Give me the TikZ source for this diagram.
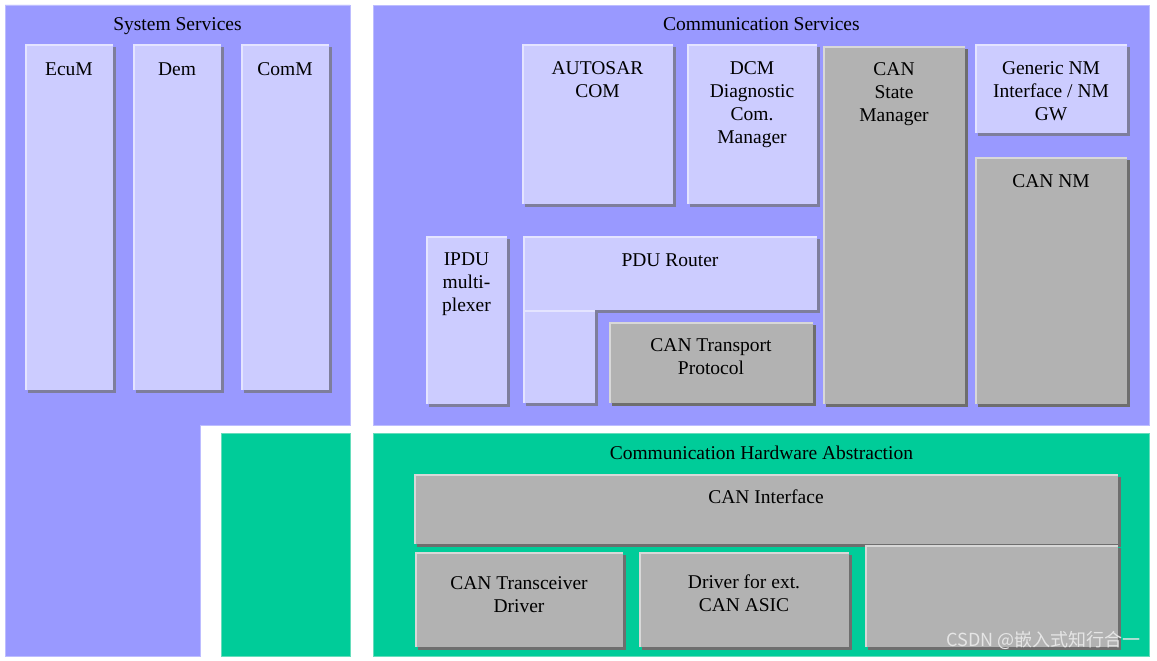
\documentclass[tikz,border=0pt]{standalone}
\usepackage{fontspec}
\setmainfont{Liberation Serif}
\newfontfamily\cjk{Noto Sans CJK SC}
\usepackage{xcolor}
\usepackage{tikz}
\usetikzlibrary{positioning}

\definecolor{svcblue}{HTML}{9999FF}
\definecolor{svcedge}{HTML}{BDBDFF}
\definecolor{boxblue}{HTML}{CCCCFF}
\definecolor{litblue}{HTML}{E4E4FF}
\definecolor{shdblue}{HTML}{7E7E9C}
\definecolor{hwgreen}{HTML}{00CC99}
\definecolor{hwedge}{HTML}{66DDBB}
\definecolor{boxgrey}{HTML}{B2B2B2}
\definecolor{litgrey}{HTML}{D8D8D8}
\definecolor{shdgrey}{HTML}{6E6E6E}

\begin{document}
\begin{tikzpicture}[x=1pt, y=-1pt,
    area/.style={line width=0.8pt},
    lbox/.style={fill=boxblue, inner sep=0pt, outer sep=0pt, anchor=north west,
      preaction={fill=shdblue, transform canvas={shift={(2.5pt,-2.5pt)}}},
      path picture={\draw[litblue, line width=3pt] (path picture bounding box.south west) |- (path picture bounding box.north east);}},
    gbox/.style={fill=boxgrey, inner sep=0pt, outer sep=0pt, anchor=north west,
      preaction={fill=shdgrey, transform canvas={shift={(2.5pt,-2.5pt)}}},
      path picture={\draw[litgrey, line width=3pt] (path picture bounding box.south west) |- (path picture bounding box.north east);}},
    txt/.style={font=\fontsize{19.5}{23}\selectfont, align=center, inner sep=0pt, outer sep=0pt}
  ]
    \useasboundingbox (0,0) rectangle (1157,661);

    % layers
    \draw[area, svcedge, fill=svcblue] (5,5) -- (350,5) -- (350,425) -- (200,425) -- (200,656) -- (5,656) -- cycle;
    \draw[area, hwedge, fill=hwgreen] (221,433) rectangle (350,656);
    \node[area, draw=svcedge, fill=svcblue, anchor=north west, inner sep=0pt, minimum width=776pt, minimum height=420pt] (comsvc) at (373,5) {};
    \node[area, draw=hwedge, fill=hwgreen, anchor=north west, inner sep=0pt, minimum width=776pt, minimum height=223pt] (comhw) at (373,433) {};

    \node[txt, anchor=north] (syssvc-txt) at (177.5,17.5) {System Services};
    \node[txt, below=12.5pt of comsvc.north] (comsvc-txt) {Communication Services};
    \node[txt, below=12.5pt of comhw.north] (comhw-txt) {Communication Hardware Abstraction};

    % system services
    \node[lbox, minimum width=88pt, minimum height=345pt] (ecum) at (25,45) {};
    \node[lbox, minimum width=88pt, minimum height=345pt] (dem) at (133,45) {};
    \node[lbox, minimum width=88pt, minimum height=345pt] (comm) at (241,45) {};
    \node[txt, below=17.5pt of ecum.north] (ecum-txt) {EcuM};
    \node[txt, below=17.5pt of dem.north] (dem-txt) {Dem};
    \node[txt, below=17.5pt of comm.north] (comm-txt) {ComM};

    % communication services
    \node[lbox, minimum width=151pt, minimum height=159pt] (com) at (522,45) {};
    \node[lbox, minimum width=130pt, minimum height=159pt] (dcm) at (687,45) {};
    \node[gbox, minimum width=142pt, minimum height=357pt] (cansm) at (823,47) {};
    \node[lbox, minimum width=152pt, minimum height=88pt] (gennm) at (975,45) {};
    \node[gbox, minimum width=152pt, minimum height=247pt] (cannm) at (975,157) {};
    \node[lbox, minimum width=81pt, minimum height=168pt] (ipdum) at (426,236) {};
    \node[lbox, minimum width=294pt, minimum height=74pt] (pdur) at (523,236) {};
    \node[lbox, minimum width=72pt, minimum height=93pt] (pdur-stub) at (523,310) {};
    \node[gbox, minimum width=204pt, minimum height=81pt] (cantp) at (609,322) {};

    \node[txt, below=17pt of com.north] (com-txt) {AUTOSAR\\COM};
    \node[txt, below=17pt of dcm.north] (dcm-txt) {DCM\\Diagnostic\\Com.\\Manager};
    \node[txt, below=16pt of cansm.north] (cansm-txt) {CAN\\State\\Manager};
    \node[txt, below=17pt of gennm.north] (gennm-txt) {Generic NM\\Interface / NM\\GW};
    \node[txt, below=17.5pt of cannm.north] (cannm-txt) {CAN NM};
    \node[txt, below=16.5pt of ipdum.north] (ipdum-txt) {IPDU\\multi-\\plexer};
    \node[txt, below=17.5pt of pdur.north] (pdur-txt) {PDU Router};
    \node[txt, below=16.5pt of cantp.north] (cantp-txt) {CAN Transport\\Protocol};

    % communication hardware abstraction
    \node[gbox, minimum width=704pt, minimum height=70pt] (canif) at (414,474) {};
    \node[gbox, minimum width=253pt, minimum height=102pt] (canif-stub) at (865,545) {};
    \node[gbox, minimum width=208pt, minimum height=95pt] (cantrcv) at (415,552) {};
    \node[gbox, minimum width=210pt, minimum height=95pt] (canasic) at (639,552) {};

    \node[txt, below=16pt of canif.north] (canif-txt) {CAN Interface};
    \node[txt, below=24.5pt of cantrcv.north] (cantrcv-txt) {CAN Transceiver\\Driver};
    \node[txt, below=23pt of canasic.north] (canasic-txt) {Driver for ext.\\CAN ASIC};

    \node[font=\cjk\fontsize{18}{18}\selectfont, text=white!90!black, inner sep=0pt, anchor=east] (mark) at (1141,640) {CSDN @嵌入式知行合一};
  \end{tikzpicture}
\end{document}
